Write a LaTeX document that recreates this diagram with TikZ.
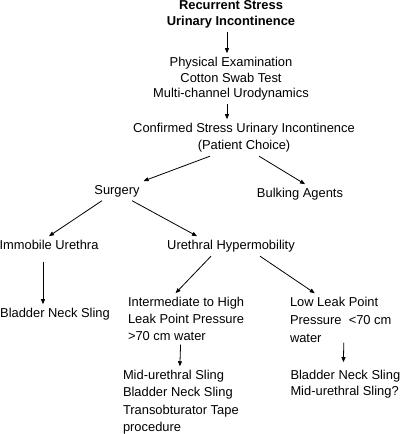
\documentclass[tikz,border=0pt]{standalone}
\usepackage{fontspec}
\setmainfont{Liberation Sans}
\usetikzlibrary{arrows.meta}

\tikzset{
  lbl/.style={font=\fontsize{12.9}{17}\selectfont, inner sep=0pt, outer sep=4pt},
  arr/.style={-{Triangle[length=5pt,width=4pt]}, line width=0.8pt},
}

\begin{document}
\begin{tikzpicture}[x=1pt,y=-1pt]
\useasboundingbox (0,0) rectangle (401,434);

% Diagnosis
\node[lbl, font=\bfseries\fontsize{12.9}{16}\selectfont, align=center, anchor=base] (recur) at (231,25.5) {Recurrent Stress\\Urinary Incontinence};
\node[lbl, font=\fontsize{12.9}{15.5}\selectfont, align=center, anchor=base] (exam) at (231,97.5) {Physical Examination\\Cotton Swab Test\\Multi-channel Urodynamics};
\node[lbl, align=center, anchor=base] (confirm) at (244,149.5) {Confirmed Stress Urinary Incontinence\\(Patient Choice)};

% Treatment choice
\node[lbl, anchor=base] (surgery) at (117,194) {Surgery};
\node[lbl, anchor=base] (bulking) at (300,197.5) {Bulking Agents};

% Urethra
\node[lbl, anchor=base] (immobile) at (49,249.5) {Immobile Urethra};
\node[lbl, anchor=base] (hyper) at (231,249.5) {Urethral Hypermobility};
\node[lbl, anchor=base] (bnsling) at (55,317.5) {Bladder Neck Sling};

% Leak point pressure
\node[lbl, align=left, anchor=base west] (highlpp) at (124,340.5) {Intermediate to High\\Leak Point Pressure\\>70 cm water};
\node[lbl, font=\fontsize{12.9}{18}\selectfont, align=left, anchor=base west] (lowlpp) at (286,342.5) {Low Leak Point\\Pressure\ \ <70 cm\\water};
\node[lbl, font=\fontsize{12.9}{17.3}\selectfont, align=left, anchor=base west] (highproc) at (119,431.5) {Mid-urethral Sling\\Bladder Neck Sling\\Transobturator Tape\\procedure};
\node[lbl, font=\fontsize{12.9}{16}\selectfont, align=left, anchor=base west] (lowproc) at (286.5,395.5) {Bladder Neck Sling\\Mid-urethral Sling?};

% Arrows
\draw[arr] ([xshift=-4pt]recur.south) -- ([xshift=-4pt]exam.north);
\draw[arr] ([xshift=-4pt]exam.south) -- ([xshift=-17pt]confirm.north);
\draw[arr] ([xshift=-34pt]confirm.south) -- (surgery.north east);
\draw[arr] ([xshift=15pt]confirm.south) -- ([xshift=5pt]bulking.north);
\draw[arr] ([xshift=-15pt]surgery.south) -- (immobile.north);
\draw[arr] ([xshift=15pt]surgery.south) -- ([xshift=-34pt]hyper.north);
\draw[arr, shorten <=8pt] ([xshift=-6pt]immobile.south) -- ([xshift=-12pt]bnsling.north);
\draw[arr] ([xshift=-20pt]hyper.south) -- ([xshift=-10.5pt]highlpp.north);
\draw[arr] ([xshift=29pt]hyper.south) -- ([xshift=-26pt]lowlpp.north);
\draw[arr] ([xshift=-5.5pt]highlpp.south) -- ([xshift=-1pt]highproc.north);
\draw[arr, shorten <=-4pt, shorten >=4pt] ([xshift=3pt]lowlpp.south) -- ([xshift=-2pt]lowproc.north);

\end{tikzpicture}
\end{document}
